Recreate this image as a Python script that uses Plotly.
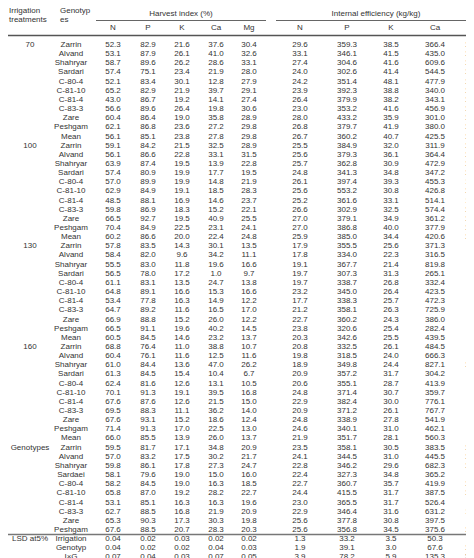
import plotly.graph_objects as go

genos = ["Zarrin", "Alvand", "Shahryar", "Sardari", "C-80-4", "C-81-10", "C-81-4", "C-83-3", "Zare", "Peshgam"]
genos_g = ["Zarrin", "Alvand", "Shahryar", "Sardaei", "C-80-4", "C-81-10", "C-81-4", "C-83-3", "Zare", "Peshgam"]
lsd_rows = ["Irrigation", "Genotyp", "I×G"]
treatments = ["70", "100", "130", "160", "Genotypes", "LSD at5%"]
columns = ["N", "P", "K", "Ca", "Mg", "N", "P", "K", "Ca", "Mg"]

irr_70 = [
    ["52.3", "82.9", "21.6", "37.6", "30.4", "29.6", "359.3", "38.5", "366.4", "136.2"],
    ["53.1", "87.9", "26.1", "41.0", "32.6", "33.1", "346.1", "41.5", "435.0", "144.0"],
    ["58.7", "89.6", "26.2", "28.6", "33.1", "27.4", "304.6", "41.6", "609.6", "140.4"],
    ["57.4", "75.1", "23.4", "21.9", "28.0", "24.0", "302.6", "41.4", "544.5", "137.8"],
    ["52.1", "83.4", "30.1", "12.8", "27.9", "24.2", "351.4", "48.1", "477.9", "141.7"],
    ["65.2", "82.9", "21.9", "39.7", "29.1", "23.9", "392.3", "38.8", "340.0", "130.6"],
    ["43.0", "86.7", "19.2", "14.1", "27.4", "26.4", "379.9", "38.2", "343.1", "130.8"],
    ["56.6", "89.6", "26.4", "19.8", "30.6", "23.0", "353.2", "41.6", "456.9", "143.9"],
    ["60.4", "86.4", "19.0", "35.8", "28.9", "28.0", "433.2", "35.9", "301.0", "129.2"],
    ["62.1", "86.8", "23.6", "27.2", "29.8", "26.8", "379.7", "41.9", "380.0", "150.2"],
    ["56.1", "85.1", "23.8", "27.8", "29.8", "26.7", "360.2", "40.7", "425.5", "138.5"],
]
irr_100 = [
    ["59.1", "84.2", "21.5", "32.5", "28.9", "25.5", "384.9", "32.0", "311.9", "149.7"],
    ["56.1", "86.6", "22.8", "33.1", "31.5", "25.6", "379.3", "36.1", "364.4", "146.8"],
    ["63.9", "87.4", "19.5", "13.9", "22.8", "25.7", "362.8", "30.9", "472.9", "107.1"],
    ["57.4", "80.9", "19.9", "17.7", "19.5", "24.8", "341.3", "34.8", "347.2", "102.0"],
    ["57.0", "89.9", "19.9", "14.8", "21.9", "26.1", "397.4", "39.3", "455.3", "119.0"],
    ["62.9", "84.9", "19.1", "18.5", "28.3", "25.6", "553.2", "30.8", "426.8", "121.8"],
    ["48.5", "88.1", "16.9", "14.6", "23.7", "25.2", "361.6", "33.1", "514.1", "116.1"],
    ["59.8", "86.9", "18.3", "15.2", "22.1", "26.6", "302.9", "32.5", "574.4", "128.5"],
    ["66.5", "92.7", "19.5", "40.9", "25.5", "27.0", "379.1", "34.9", "361.2", "125.9"],
    ["70.4", "84.9", "22.5", "23.1", "24.1", "27.0", "386.8", "40.0", "377.9", "125.4"],
    ["60.2", "86.6", "20.0", "22.4", "24.8", "25.9", "385.0", "34.4", "420.6", "124.2"],
]
irr_130 = [
    ["57.8", "83.5", "14.3", "30.1", "13.5", "17.9", "355.5", "25.6", "371.3", "74.7"],
    ["58.4", "82.0", "9.6", "34.2", "11.1", "17.8", "334.0", "22.3", "316.5", "66.6"],
    ["55.5", "83.0", "11.8", "19.6", "16.6", "19.1", "367.7", "21.4", "819.8", "81.7"],
    ["56.5", "78.0", "17.2", "1.0", "9.7", "19.7", "307.3", "31.3", "265.1", "52.5"],
    ["61.1", "83.1", "13.5", "24.7", "13.8", "19.7", "338.7", "26.8", "332.4", "78.3"],
    ["64.8", "89.1", "16.6", "15.3", "16.6", "23.2", "345.0", "26.4", "423.5", "73.6"],
    ["53.4", "77.8", "16.3", "14.9", "12.2", "17.7", "338.3", "25.7", "472.3", "62.9"],
    ["64.7", "89.2", "11.6", "16.5", "17.0", "21.2", "358.1", "26.3", "725.9", "86.9"],
    ["66.9", "88.8", "15.2", "26.0", "12.2", "22.7", "360.2", "24.3", "386.0", "58.0"],
    ["66.5", "91.1", "19.6", "40.2", "14.5", "23.8", "320.6", "25.4", "282.4", "78.2"],
    ["60.5", "84.5", "14.6", "23.2", "13.7", "20.3", "342.6", "25.5", "439.5", "71.3"],
]
irr_160 = [
    ["68.8", "76.4", "11.0", "38.8", "10.7", "20.8", "332.5", "26.1", "484.5", "76.7"],
    ["60.4", "76.1", "11.6", "12.5", "11.6", "19.8", "318.5", "24.0", "666.3", "68.8"],
    ["61.0", "84.4", "13.6", "47.0", "26.2", "18.9", "349.8", "24.4", "827.1", "155.5"],
    ["61.3", "84.5", "15.4", "10.4", "6.7", "20.9", "357.2", "31.7", "304.2", "44.2"],
    ["62.4", "81.6", "12.6", "13.1", "10.5", "20.6", "355.1", "28.7", "413.9", "66.9"],
    ["70.1", "91.3", "19.1", "39.5", "16.8", "24.8", "371.4", "30.7", "359.7", "86.7"],
    ["67.6", "87.6", "12.6", "21.5", "15.0", "22.9", "382.4", "30.0", "776.1", "85.4"],
    ["69.5", "88.3", "11.1", "36.2", "14.0", "20.9", "371.2", "26.1", "767.7", "91.3"],
    ["67.6", "93.1", "15.2", "18.6", "12.4", "24.8", "338.9", "27.8", "541.9", "66.8"],
    ["71.4", "91.3", "17.0", "22.5", "13.0", "24.6", "340.1", "31.0", "462.1", "70.0"],
    ["66.0", "85.5", "13.9", "26.0", "13.7", "21.9", "351.7", "28.1", "560.3", "81.2"],
]
geno_means = [
    ["59.5", "81.7", "17.1", "34.8", "20.9", "23.5", "358.1", "30.5", "383.5", "109.3"],
    ["57.0", "83.2", "17.5", "30.2", "21.7", "24.1", "344.5", "31.0", "445.5", "106.5"],
    ["59.8", "86.1", "17.8", "27.3", "24.7", "22.8", "346.2", "29.6", "682.3", "121.2"],
    ["58.1", "79.6", "19.0", "15.0", "16.0", "22.4", "327.3", "34.8", "365.2", "84.1"],
    ["58.2", "84.5", "19.0", "16.3", "18.5", "22.7", "360.7", "35.7", "419.9", "101.5"],
    ["65.8", "87.0", "19.2", "28.2", "22.7", "24.4", "415.5", "31.7", "387.5", "103.2"],
    ["53.1", "85.1", "16.3", "16.3", "19.6", "23.0", "365.5", "31.7", "526.4", "98.8"],
    ["62.7", "88.5", "16.8", "21.9", "20.9", "22.9", "346.4", "31.6", "631.2", "112.7"],
    ["65.3", "90.3", "17.3", "30.3", "19.8", "25.6", "377.8", "30.8", "397.5", "95.0"],
    ["67.6", "88.5", "20.7", "28.3", "20.3", "25.6", "356.8", "34.5", "375.6", "106.0"],
]
lsd = [
    ["0.04", "0.02", "0.03", "0.02", "0.02", "1.3", "33.2", "3.5", "50.3", "11.5"],
    ["0.04", "0.02", "0.02", "0.04", "0.03", "1.9", "39.1", "3.0", "67.6", "15.17"],
    ["0.07", "0.04", "0.03", "0.07", "0.05", "3.9", "78.2", "5.9", "135.3", "30.33"],
]

row_names = []
row_values = []
treat_at = {}
for t, block in zip(treatments[:4], [irr_70, irr_100, irr_130, irr_160]):
    treat_at[len(row_names)] = t
    row_names += genos + ["Mean"]
    row_values += block
treat_at[len(row_names)] = treatments[4]
row_names += genos_g
row_values += geno_means
treat_at[len(row_names)] = treatments[5]
row_names += lsd_rows
row_values += lsd

col_x = [105, 140, 174, 208, 241, 292, 339, 383, 427, 467]
y0, dy = 37, 9.15
ys = [y0 + i * dy for i in range(len(row_names))]
font = dict(family="Liberation Sans, Arial", size=8, color="#333")

fig = go.Figure()
for j, cx in enumerate(col_x):
    fig.add_trace(go.Scatter(x=[cx] * len(ys), y=ys, mode="text", cliponaxis=False,
                             text=[r[j] for r in row_values], textfont=font))
fig.add_trace(go.Scatter(x=[63] * len(ys), y=ys, mode="text", cliponaxis=False,
                         text=row_names, textfont=font))
fig.add_trace(go.Scatter(x=[22] * len(treat_at), y=[ys[i] for i in treat_at], mode="text",
                         cliponaxis=False, text=list(treat_at.values()), textfont=font))
fig.add_trace(go.Scatter(x=col_x, y=[20] * len(col_x), mode="text", cliponaxis=False,
                         text=columns, textfont=font))
fig.add_trace(go.Scatter(x=[173, 368], y=[6, 6], mode="text", cliponaxis=False,
                         text=["Harvest index (%)", "Internal efficiency (kg/kg)"], textfont=font))
fig.add_trace(go.Scatter(x=[1, 1, 52, 52], y=[3, 12, 3, 12], mode="text", textposition="middle right",
                         cliponaxis=False, text=["Irrigation", "treatments", "Genotyp", "es"],
                         textfont=font))

line = dict(color="#666", width=1)
fig.add_shape(type="line", x0=88, x1=258, y0=12.5, y1=12.5, line=line)
fig.add_shape(type="line", x0=268, x1=474, y0=12.5, y1=12.5, line=line)
fig.add_shape(type="line", x0=0, x1=474, y0=27.5, y1=27.5, line=dict(color="#555", width=1.5))
fig.add_shape(type="line", x0=0, x1=474, y0=(ys[53] + ys[54]) / 2, y1=(ys[53] + ys[54]) / 2,
              line=dict(color="#777", width=1.5))

fig.update_layout(width=474, height=558, margin=dict(l=0, r=0, t=0, b=0),
                  showlegend=False, plot_bgcolor="white", paper_bgcolor="white",
                  xaxis=dict(range=[0, 474], visible=False, fixedrange=True),
                  yaxis=dict(range=[558, 0], visible=False, fixedrange=True))
fig.write_html("out.html")
